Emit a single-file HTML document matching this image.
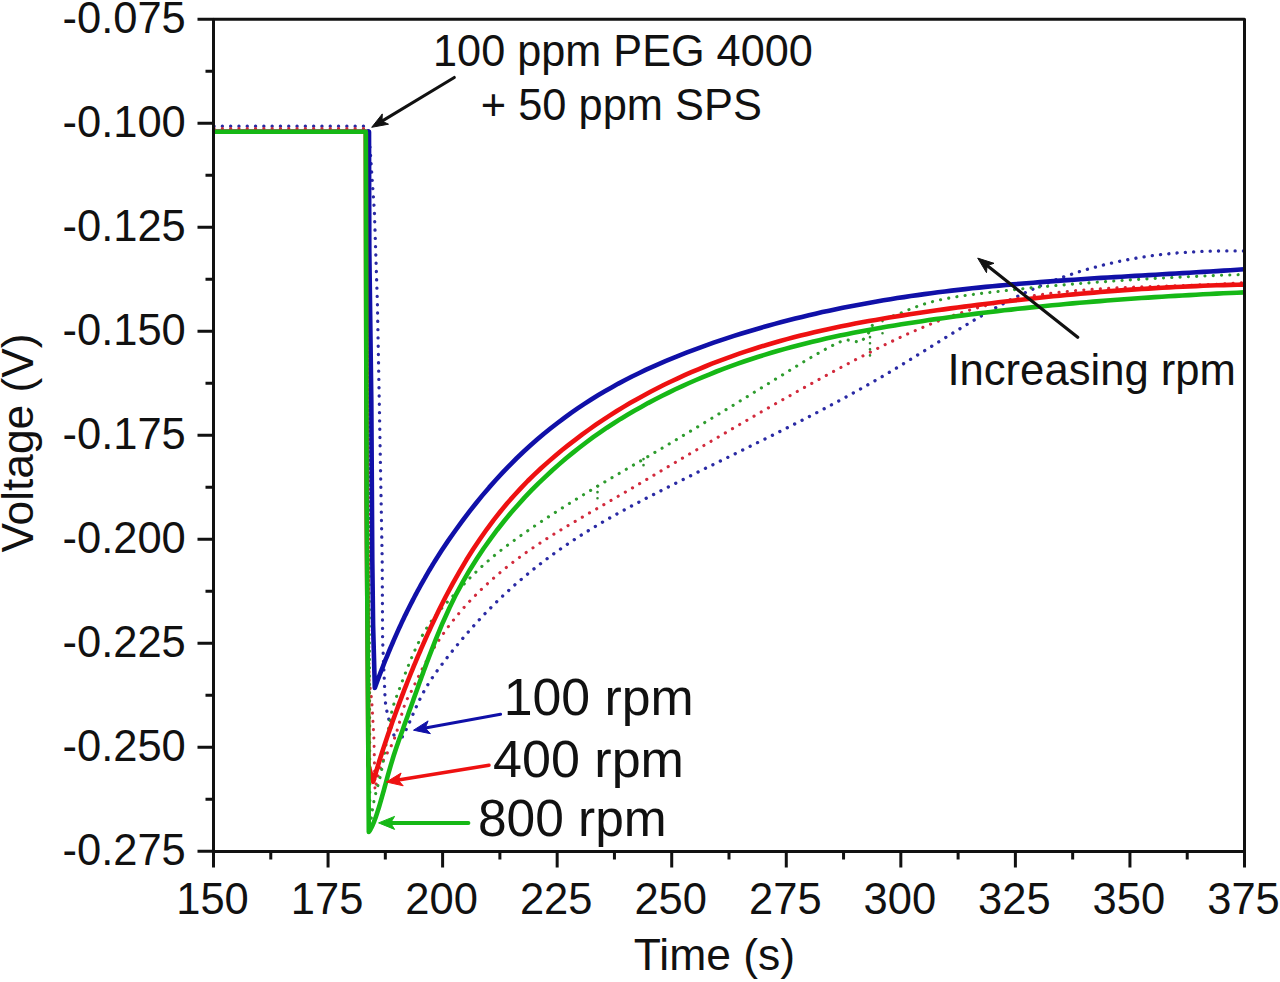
<!DOCTYPE html>
<html><head><meta charset="utf-8"><style>
html,body{margin:0;padding:0;background:#fff;}
body{width:1280px;height:982px;overflow:hidden;}
svg{display:block;}
text{font-family:"Liberation Sans",sans-serif;fill:#111;}
</style></head><body>
<svg width="1280" height="982" viewBox="0 0 1280 982">
<rect width="1280" height="982" fill="#fff"/>
<g>
<polyline points="214.0,126.2 367.0,126.2 368.9,132.0 374.4,211.5 377.4,303.0 379.6,418.8 382.2,560.0 382.6,640.0 385.0,696.4 385.7,705.3 387.5,714.3 392.1,731.4 398.0,743.0 399.0,741.8 400.0,740.5 401.0,739.0 402.0,737.4 403.0,735.6 404.0,733.8 405.0,731.8 406.0,729.8 407.0,727.7 408.0,725.5 409.0,723.3 410.0,721.1 411.0,718.8 412.0,716.5 413.0,714.2 414.0,711.9 415.0,709.6 416.0,707.4 417.0,705.2 418.0,703.0 419.0,700.9 420.0,698.9 421.0,696.9 422.0,695.0 423.0,693.1 424.0,691.3 425.0,689.5 426.0,687.8 427.0,686.1 428.0,684.4 429.0,682.8 430.0,681.2 431.0,679.7 432.0,678.2 433.0,676.7 434.0,675.3 435.0,673.8 436.0,672.4 437.0,671.0 438.0,669.7 439.0,668.3 440.0,667.0 441.0,665.6 442.0,664.3 443.0,663.0 444.0,661.7 445.0,660.4 446.0,659.1 447.0,657.8 448.0,656.5 449.0,655.2 450.0,654.0 451.0,652.7 452.0,651.5 453.0,650.2 454.0,649.0 455.0,647.7 456.0,646.5 457.0,645.3 458.0,644.1 464.6,636.2 471.2,628.6 477.8,621.3 484.4,614.3 491.0,607.5 497.6,600.9 504.2,594.6 510.8,588.5 517.4,582.6 524.1,577.0 530.7,571.5 537.3,566.2 543.9,561.1 550.5,556.1 557.1,551.4 563.7,546.7 570.3,542.3 576.9,537.9 583.5,533.7 590.1,529.6 596.7,525.6 603.3,521.7 609.9,517.9 616.5,514.2 623.1,510.6 629.7,507.0 636.3,503.5 642.9,500.0 649.5,496.6 656.2,493.2 662.8,489.8 669.4,486.4 676.0,483.1 682.6,479.8 689.2,476.5 695.8,473.2 702.4,469.9 709.0,466.6 715.6,463.4 722.2,460.1 728.8,456.9 735.4,453.6 742.0,450.4 748.6,447.1 755.2,443.8 761.8,440.5 768.4,437.3 775.0,434.0 781.6,430.6 788.3,427.3 794.9,423.9 801.5,420.6 808.1,417.2 814.7,413.7 821.3,410.3 827.9,406.8 834.5,403.2 841.1,399.7 847.7,396.1 854.3,392.4 860.9,388.7 867.5,385.0 874.1,381.2 880.7,377.4 887.3,373.5 893.9,369.6 900.5,365.6 907.1,361.5 913.7,357.4 920.4,353.3 927.0,349.2 933.6,345.1 940.2,340.9 946.8,336.8 953.4,332.7 960.0,328.7 966.6,324.7 973.2,320.7 979.8,316.8 986.4,313.0 993.0,309.3 999.6,305.6 1006.2,302.1 1012.8,298.7 1019.4,295.4 1026.0,292.3 1032.6,289.3 1039.2,286.4 1045.8,283.6 1052.5,281.0 1059.1,278.5 1065.7,276.2 1072.3,274.0 1078.9,271.8 1085.5,269.8 1092.1,268.0 1098.7,266.2 1105.3,264.5 1111.9,263.0 1118.5,261.5 1125.1,260.2 1131.7,259.0 1138.3,257.8 1144.9,256.8 1151.5,255.8 1158.1,255.0 1164.7,254.2 1171.3,253.5 1177.9,252.9 1184.6,252.4 1191.2,252.0 1197.8,251.6 1204.4,251.3 1211.0,251.1 1217.6,251.0 1224.2,250.9 1230.8,250.9 1237.4,250.9 1244.0,251.0" fill="none" stroke="#2a2aa4" stroke-width="3.3" stroke-dasharray="0.1 8.2" stroke-linecap="round" stroke-linejoin="round"/>
<polyline points="214.0,128.6 368.0,128.6 368.5,140.0 368.6,600.0 369.0,680.0 371.7,700.0 374.0,740.0 375.0,790.0 376.0,784.8 377.0,780.1 378.0,775.9 379.0,772.2 380.0,768.9 381.0,766.0 382.0,763.4 383.0,761.1 384.0,758.9 385.0,757.0 386.0,755.2 387.0,753.4 388.0,751.7 389.0,750.0 390.0,748.2 391.0,746.3 392.0,744.3 393.0,742.0 394.0,739.6 395.0,736.9 396.0,734.0 397.0,730.9 398.0,727.6 399.0,724.2 400.0,720.6 401.0,717.0 402.0,713.4 403.0,710.1 404.0,706.9 405.0,704.0 406.0,701.6 407.0,699.4 408.0,697.4 409.0,695.6 410.0,693.8 411.0,691.9 412.0,689.9 413.0,687.9 414.0,685.8 415.0,683.7 416.0,681.6 417.0,679.5 418.0,677.5 419.0,675.4 420.0,673.4 421.0,671.3 422.0,669.4 423.0,667.4 424.0,665.5 425.0,663.6 426.0,661.8 427.0,659.9 428.0,658.1 429.0,656.4 430.0,654.6 431.0,652.9 432.0,651.2 433.0,649.5 434.0,647.9 435.0,646.2 441.8,635.8 448.6,626.3 455.4,617.6 462.2,609.5 469.0,601.9 475.8,594.9 482.6,588.2 489.4,581.9 496.2,575.9 503.0,570.2 509.8,564.7 516.6,559.5 523.4,554.5 530.2,549.7 537.0,545.1 543.8,540.6 550.6,536.2 557.4,532.0 564.2,527.8 571.0,523.8 577.8,519.8 584.6,515.8 591.4,511.8 598.2,507.9 605.0,503.9 611.8,500.0 618.6,496.0 625.4,492.0 632.2,488.0 638.9,484.0 645.7,480.0 652.5,476.0 659.3,471.9 666.1,467.9 672.9,463.9 679.7,459.8 686.5,455.8 693.3,451.8 700.1,447.8 706.9,443.7 713.7,439.7 720.5,435.7 727.3,431.7 734.1,427.7 740.9,423.8 747.7,419.8 754.5,415.9 761.3,411.9 768.1,408.0 774.9,404.1 781.7,400.2 788.5,396.4 795.3,392.6 802.1,388.7 808.9,385.0 815.7,381.2 822.5,377.5 829.3,373.7 836.1,370.1 842.9,366.4 849.7,362.8 856.5,359.2 863.3,355.7 870.1,352.2 876.9,348.7 883.7,345.3 890.5,342.0 897.3,338.8 904.1,335.6 910.9,332.5 917.7,329.5 924.5,326.6 931.3,323.8 938.1,321.1 944.9,318.5 951.7,316.0 958.5,313.7 965.3,311.4 972.1,309.4 978.9,307.4 985.7,305.6 992.5,303.9 999.3,302.3 1006.1,300.8 1012.9,299.4 1019.7,298.1 1026.5,296.9 1033.3,295.8 1040.1,294.8 1046.8,293.8 1053.6,293.0 1060.4,292.2 1067.2,291.5 1074.0,290.8 1080.8,290.2 1087.6,289.7 1094.4,289.2 1101.2,288.8 1108.0,288.4 1114.8,288.0 1121.6,287.7 1128.4,287.4 1135.2,287.1 1142.0,286.9 1148.8,286.6 1155.6,286.4 1162.4,286.2 1169.2,286.0 1176.0,285.8 1182.8,285.5 1189.6,285.3 1196.4,285.0 1203.2,284.8 1210.0,284.5 1216.8,284.2 1223.6,283.8 1230.4,283.4 1237.2,283.0 1244.0,282.5" fill="none" stroke="#d22a3c" stroke-width="3.1" stroke-dasharray="0.1 8.2" stroke-linecap="round" stroke-linejoin="round"/>
<polyline points="214.0,131.0 366.0,131.0 368.0,140.0 370.0,830.0 371.0,820.7 372.0,812.9 373.0,806.4 374.0,800.9 375.0,796.3 376.0,792.3 377.0,788.7 378.0,785.1 379.0,781.5 380.0,777.5 381.0,773.0 382.0,768.1 383.0,762.7 384.0,756.9 385.0,750.9 386.0,744.6 387.0,738.4 388.0,732.2 389.0,726.3 390.0,720.6 391.0,715.5 392.0,710.8 393.0,706.9 394.0,703.6 395.0,700.7 396.0,698.0 397.0,695.3 398.0,692.6 399.0,689.9 400.0,687.3 401.0,684.6 402.0,681.9 403.0,679.3 404.0,676.7 405.0,674.1 406.0,671.5 407.0,669.0 408.0,666.5 409.0,664.0 410.0,661.6 411.0,659.2 412.0,656.8 413.0,654.5 414.0,652.2 415.0,650.0 416.0,647.8 417.0,645.7 418.0,643.6 419.0,641.6 420.0,639.7 421.0,637.8 422.0,636.0 423.0,634.2 424.0,632.5 425.0,630.8 426.0,629.2 427.0,627.6 428.0,626.0 429.0,624.5 430.0,623.1 436.8,614.0 443.7,606.0 450.5,598.6 457.4,591.2 464.2,583.9 471.0,576.8 477.9,570.1 484.7,563.8 491.6,557.9 498.4,552.3 505.2,547.0 512.1,541.9 518.9,537.0 525.8,532.1 532.6,527.4 539.4,522.8 546.3,518.3 553.1,513.8 560.0,509.4 566.8,505.1 573.6,500.8 580.5,496.6 587.3,492.4 594.2,488.3 601.0,484.2 607.8,480.1 614.7,476.1 621.5,472.1 628.4,468.0 635.2,464.0 642.1,460.0 648.9,456.0 655.7,451.9 662.6,447.9 669.4,443.8 676.3,439.7 683.1,435.6 689.9,431.5 696.8,427.4 703.6,423.2 710.5,419.1 717.3,414.9 724.1,410.8 731.0,406.6 737.8,402.4 744.7,398.2 751.5,394.0 758.3,389.8 765.2,385.6 772.0,381.3 778.9,377.1 785.7,372.9 792.5,368.6 799.4,364.4 806.2,360.3 813.1,356.2 819.9,352.3 826.7,348.5 833.6,345.0 840.4,341.7 847.3,339.9 854.1,341.4 860.9,342.0 867.8,334.4 874.6,320.7 881.5,318.2 888.3,317.3 895.1,315.3 902.0,312.6 908.8,309.7 915.7,307.0 922.5,304.6 929.3,302.5 936.2,300.7 943.0,299.2 949.9,297.9 956.7,296.7 963.5,295.7 970.4,294.8 977.2,293.9 984.1,293.1 990.9,292.3 997.7,291.5 1004.6,290.7 1011.4,290.0 1018.3,289.2 1025.1,288.5 1031.9,287.8 1038.8,287.1 1045.6,286.5 1052.5,285.9 1059.3,285.2 1066.2,284.7 1073.0,284.1 1079.8,283.5 1086.7,283.0 1093.5,282.5 1100.4,281.9 1107.2,281.5 1114.0,281.0 1120.9,280.5 1127.7,280.1 1134.6,279.6 1141.4,279.2 1148.2,278.8 1155.1,278.4 1161.9,278.1 1168.8,277.7 1175.6,277.4 1182.4,277.0 1189.3,276.7 1196.1,276.4 1203.0,276.1 1209.8,275.8 1216.6,275.5 1223.5,275.2 1230.3,275.0 1237.2,274.7 1244.0,274.5" fill="none" stroke="#2e9c2e" stroke-width="3.1" stroke-dasharray="0.1 8.2" stroke-linecap="round" stroke-linejoin="round"/>
<path d="M870,331 V357 M882.5,321 V336 M597.5,486 V502 M643.5,459 V468" stroke="#2f8f2f" stroke-width="2.6" stroke-dasharray="0.1 6" stroke-linecap="round" fill="none"/>
<polyline points="214.0,131.8 369.0,131.8 369.3,250.0 371.3,400.0 372.3,560.0 373.1,625.0 374.8,688.0 375.8,685.2 376.8,682.5 377.8,679.8 378.8,677.2 379.8,674.5 380.8,671.9 381.8,669.3 382.8,666.8 383.8,664.2 384.8,661.7 385.8,659.2 386.8,656.8 387.8,654.3 388.8,651.9 389.8,649.5 390.8,647.1 391.8,644.8 392.8,642.5 393.8,640.2 394.8,637.9 395.8,635.6 396.8,633.4 397.8,631.1 398.8,628.9 399.8,626.8 400.8,624.6 401.8,622.4 402.8,620.3 403.8,618.2 404.8,616.1 405.8,614.1 406.8,612.0 407.8,610.0 408.8,608.0 409.8,606.0 410.8,604.0 411.8,602.1 412.8,600.1 413.8,598.2 414.8,596.3 415.8,594.4 416.8,592.5 417.8,590.7 418.8,588.8 419.8,587.0 420.8,585.2 421.8,583.4 422.8,581.6 423.8,579.8 424.8,578.1 425.8,576.3 426.8,574.6 427.8,572.9 428.8,571.2 429.8,569.5 430.8,567.8 431.8,566.2 432.8,564.5 433.8,562.9 434.8,561.3 441.6,550.6 448.4,540.4 455.2,530.7 462.0,521.3 468.8,512.3 475.6,503.7 482.4,495.4 489.2,487.4 496.0,479.8 502.8,472.4 509.6,465.3 516.4,458.5 523.2,452.0 530.0,445.8 536.8,439.8 543.6,434.0 550.4,428.5 557.2,423.2 564.0,418.1 570.8,413.1 577.6,408.4 584.4,403.9 591.2,399.5 598.0,395.3 604.8,391.3 611.6,387.4 618.4,383.6 625.2,380.0 632.0,376.5 638.8,373.2 645.6,369.9 652.4,366.8 659.2,363.8 666.0,360.9 672.8,358.1 679.6,355.3 686.4,352.7 693.2,350.1 700.0,347.6 706.8,345.1 713.6,342.7 720.4,340.4 727.2,338.1 734.0,335.9 740.8,333.8 747.6,331.7 754.4,329.7 761.2,327.7 768.0,325.7 774.8,323.9 781.6,322.0 788.4,320.3 795.2,318.6 802.0,316.9 808.8,315.3 815.6,313.7 822.4,312.1 829.2,310.7 836.0,309.2 842.8,307.8 849.6,306.5 856.4,305.2 863.2,303.9 870.0,302.7 876.8,301.5 883.6,300.3 890.4,299.2 897.2,298.1 904.0,297.1 910.8,296.0 917.6,295.1 924.4,294.1 931.2,293.2 938.0,292.3 944.8,291.5 951.6,290.6 958.4,289.9 965.2,289.1 972.0,288.3 978.8,287.6 985.6,286.9 992.4,286.3 999.2,285.6 1006.0,285.0 1012.8,284.4 1019.6,283.8 1026.4,283.2 1033.2,282.7 1040.0,282.1 1046.8,281.6 1053.6,281.1 1060.4,280.6 1067.2,280.1 1074.0,279.7 1080.8,279.2 1087.6,278.8 1094.4,278.3 1101.2,277.9 1108.0,277.5 1114.8,277.1 1121.6,276.7 1128.4,276.3 1135.2,275.9 1142.0,275.5 1148.8,275.1 1155.6,274.7 1162.4,274.3 1169.2,273.9 1176.0,273.5 1182.8,273.1 1189.6,272.7 1196.4,272.3 1203.2,271.9 1210.0,271.5 1216.8,271.1 1223.6,270.6 1230.4,270.2 1237.2,269.8 1244.0,269.3" fill="none" stroke="#1010a8" stroke-width="4.6" stroke-linejoin="round" stroke-linecap="butt"/>
<polyline points="214.0,131.8 365.8,131.8 366.6,500.0 368.0,700.0 368.4,765.0 373.2,781.9 374.2,778.4 375.2,774.9 376.2,771.5 377.2,768.1 378.2,764.8 379.2,761.5 380.2,758.3 381.2,755.2 382.2,752.0 383.2,749.0 384.2,745.9 385.2,742.9 386.2,739.9 387.2,737.0 388.2,734.1 389.2,731.2 390.2,728.3 391.2,725.4 392.2,722.6 393.2,719.8 394.2,717.0 395.2,714.2 396.2,711.5 397.2,708.8 398.2,706.1 399.2,703.4 400.2,700.7 401.2,698.1 402.2,695.4 403.2,692.8 404.2,690.2 405.2,687.7 406.2,685.1 407.2,682.5 408.2,680.0 409.2,677.5 410.2,675.0 411.2,672.5 412.2,670.1 413.2,667.6 414.2,665.2 415.2,662.8 416.2,660.4 417.2,658.0 418.2,655.6 419.2,653.3 420.2,651.0 421.2,648.6 422.2,646.3 423.2,644.1 424.2,641.8 425.2,639.5 426.2,637.3 427.2,635.1 428.2,632.9 429.2,630.7 430.2,628.5 431.2,626.3 432.2,624.2 439.0,610.0 445.8,596.5 452.7,583.7 459.5,571.6 466.3,560.1 473.1,549.3 480.0,539.0 486.8,529.3 493.6,520.1 500.4,511.5 507.2,503.2 514.1,495.5 520.9,488.1 527.7,481.0 534.5,474.4 541.3,468.0 548.2,461.9 555.0,456.0 561.8,450.3 568.6,444.9 575.5,439.6 582.3,434.4 589.1,429.5 595.9,424.7 602.7,420.1 609.6,415.6 616.4,411.3 623.2,407.1 630.0,403.1 636.9,399.2 643.7,395.4 650.5,391.7 657.3,388.2 664.1,384.8 671.0,381.5 677.8,378.3 684.6,375.2 691.4,372.2 698.3,369.3 705.1,366.5 711.9,363.7 718.7,361.1 725.5,358.6 732.4,356.1 739.2,353.7 746.0,351.4 752.8,349.2 759.6,347.0 766.5,345.0 773.3,343.0 780.1,341.0 786.9,339.1 793.8,337.3 800.6,335.6 807.4,333.9 814.2,332.3 821.0,330.7 827.9,329.2 834.7,327.7 841.5,326.3 848.3,324.9 855.2,323.6 862.0,322.3 868.8,321.1 875.6,319.9 882.4,318.7 889.3,317.5 896.1,316.4 902.9,315.4 909.7,314.3 916.6,313.3 923.4,312.3 930.2,311.3 937.0,310.3 943.8,309.4 950.7,308.4 957.5,307.5 964.3,306.6 971.1,305.7 977.9,304.9 984.8,304.0 991.6,303.2 998.4,302.3 1005.2,301.5 1012.1,300.7 1018.9,300.0 1025.7,299.2 1032.5,298.5 1039.3,297.7 1046.2,297.0 1053.0,296.3 1059.8,295.7 1066.6,295.0 1073.5,294.4 1080.3,293.7 1087.1,293.1 1093.9,292.6 1100.7,292.0 1107.6,291.4 1114.4,290.9 1121.2,290.4 1128.0,289.9 1134.9,289.4 1141.7,289.0 1148.5,288.6 1155.3,288.1 1162.1,287.8 1169.0,287.4 1175.8,287.0 1182.6,286.7 1189.4,286.4 1196.2,286.1 1203.1,285.8 1209.9,285.5 1216.7,285.3 1223.5,285.1 1230.4,284.9 1237.2,284.7 1244.0,284.6" fill="none" stroke="#ee1111" stroke-width="4.6" stroke-linejoin="round" stroke-linecap="butt"/>
<polyline points="214.0,131.8 365.8,131.8 366.6,500.0 368.0,700.0 368.8,832.0 369.8,830.6 370.8,828.8 371.8,826.9 372.8,824.7 373.8,822.3 374.8,819.7 375.8,816.9 376.8,814.0 377.8,810.9 378.8,807.7 379.8,804.4 380.8,800.9 381.8,797.4 382.8,793.9 383.8,790.3 384.8,786.6 385.8,783.0 386.8,779.3 387.8,775.7 388.8,772.1 389.8,768.6 390.8,765.1 391.8,761.8 392.8,758.5 393.8,755.3 394.8,752.2 395.8,749.2 396.8,746.3 397.8,743.4 398.8,740.6 399.8,737.8 400.8,735.0 401.8,732.2 402.8,729.4 403.8,726.6 404.8,723.8 405.8,721.0 406.8,718.2 407.8,715.4 408.8,712.6 409.8,709.8 410.8,707.0 411.8,704.2 412.8,701.4 413.8,698.5 414.8,695.7 415.8,692.9 416.8,690.2 417.8,687.4 418.8,684.6 419.8,681.8 420.8,679.1 421.8,676.3 422.8,673.6 423.8,670.8 424.8,668.1 425.8,665.4 426.8,662.7 427.8,660.1 428.8,657.4 435.7,639.7 442.5,623.2 449.4,608.0 456.2,594.1 463.1,581.4 469.9,569.7 476.8,558.8 483.6,548.5 490.5,538.8 497.3,529.7 504.2,521.0 511.0,512.7 517.9,504.9 524.7,497.4 531.6,490.2 538.4,483.4 545.3,476.8 552.1,470.5 559.0,464.4 565.8,458.5 572.7,452.9 579.5,447.5 586.4,442.2 593.2,437.2 600.1,432.4 606.9,427.7 613.8,423.2 620.6,418.9 627.5,414.8 634.3,410.7 641.2,406.9 648.0,403.1 654.9,399.5 661.7,396.0 668.6,392.6 675.4,389.3 682.3,386.1 689.1,383.0 696.0,380.0 702.8,377.1 709.7,374.3 716.5,371.5 723.4,368.9 730.2,366.4 737.1,363.9 743.9,361.5 750.8,359.2 757.6,357.0 764.5,354.9 771.3,352.8 778.2,350.8 785.0,348.9 791.9,347.0 798.7,345.2 805.6,343.5 812.4,341.8 819.3,340.2 826.1,338.6 833.0,337.1 839.8,335.6 846.7,334.2 853.5,332.8 860.4,331.5 867.2,330.2 874.1,329.0 880.9,327.8 887.8,326.6 894.6,325.4 901.5,324.3 908.3,323.2 915.2,322.2 922.0,321.2 928.9,320.1 935.7,319.1 942.6,318.2 949.4,317.2 956.3,316.3 963.1,315.4 970.0,314.5 976.8,313.6 983.7,312.8 990.5,312.0 997.4,311.1 1004.2,310.3 1011.1,309.6 1017.9,308.8 1024.8,308.1 1031.6,307.4 1038.5,306.7 1045.3,306.0 1052.2,305.3 1059.0,304.7 1065.9,304.0 1072.7,303.4 1079.6,302.8 1086.4,302.2 1093.3,301.6 1100.1,301.1 1107.0,300.5 1113.8,300.0 1120.7,299.5 1127.5,299.0 1134.4,298.5 1141.2,298.0 1148.1,297.6 1154.9,297.1 1161.8,296.7 1168.6,296.3 1175.5,295.9 1182.3,295.5 1189.2,295.1 1196.0,294.7 1202.9,294.3 1209.7,294.0 1216.6,293.6 1223.4,293.3 1230.3,293.0 1237.1,292.7 1244.0,292.4" fill="none" stroke="#16b816" stroke-width="4.6" stroke-linejoin="round" stroke-linecap="butt"/>
</g>
<rect x="213.5" y="19.2" width="1031.0" height="832.1999999999999" fill="none" stroke="#111" stroke-width="3" stroke-linejoin="round"/>
<path d="M213.50,851.4 V867.4 M270.78,851.4 V859.4 M328.06,851.4 V867.4 M385.33,851.4 V859.4 M442.61,851.4 V867.4 M499.89,851.4 V859.4 M557.17,851.4 V867.4 M614.44,851.4 V859.4 M671.72,851.4 V867.4 M729.00,851.4 V859.4 M786.28,851.4 V867.4 M843.56,851.4 V859.4 M900.83,851.4 V867.4 M958.11,851.4 V859.4 M1015.39,851.4 V867.4 M1072.67,851.4 V859.4 M1129.94,851.4 V867.4 M1187.22,851.4 V859.4 M1244.50,851.4 V867.4 M213.5,19.20 H197.5 M213.5,71.20 H205.5 M213.5,123.20 H197.5 M213.5,175.20 H205.5 M213.5,227.20 H197.5 M213.5,279.20 H205.5 M213.5,331.20 H197.5 M213.5,383.20 H205.5 M213.5,435.20 H197.5 M213.5,487.20 H205.5 M213.5,539.20 H197.5 M213.5,591.20 H205.5 M213.5,643.20 H197.5 M213.5,695.20 H205.5 M213.5,747.20 H197.5 M213.5,799.20 H205.5 M213.5,851.20 H197.5" stroke="#111" stroke-width="3" fill="none"/>
<line x1="454.3" y1="77.5" x2="382.0" y2="121.1" stroke="#111" stroke-width="3.1" stroke-linecap="round"/><polygon points="371.7,127.3 382.3,113.9 382.0,121.1 388.5,124.2" fill="#111" stroke="#111" stroke-width="1" stroke-linejoin="round"/>
<line x1="1077.7" y1="337.3" x2="987.1" y2="265.6" stroke="#111" stroke-width="3.2" stroke-linecap="round"/><polygon points="977.7,258.1 994.0,263.3 987.1,265.6 986.5,272.7" fill="#111" stroke="#111" stroke-width="1" stroke-linejoin="round"/>
<line x1="500.5" y1="714.3" x2="425.3" y2="728.0" stroke="#1010a8" stroke-width="3.2" stroke-linecap="round"/><polygon points="413.5,730.2 428.1,720.9 425.3,728.0 430.4,733.7" fill="#1010a8" stroke="#1010a8" stroke-width="1" stroke-linejoin="round"/>
<line x1="489" y1="765.3" x2="398.2" y2="780.1" stroke="#ee1111" stroke-width="3.5" stroke-linecap="round"/><polygon points="386.4,782.0 401.1,773.0 398.2,780.1 403.2,785.8" fill="#ee1111" stroke="#ee1111" stroke-width="1" stroke-linejoin="round"/>
<line x1="468.4" y1="822.9" x2="390.6" y2="822.9" stroke="#16b816" stroke-width="4" stroke-linecap="round"/><polygon points="378.6,822.9 394.6,816.4 390.6,822.9 394.6,829.4" fill="#16b816" stroke="#16b816" stroke-width="1" stroke-linejoin="round"/>
<g font-size="43.5">
<text x="185.8" y="32.6" text-anchor="end">-0.075</text><text x="185.8" y="136.6" text-anchor="end">-0.100</text><text x="185.8" y="240.6" text-anchor="end">-0.125</text><text x="185.8" y="344.6" text-anchor="end">-0.150</text><text x="185.8" y="448.6" text-anchor="end">-0.175</text><text x="185.8" y="552.6" text-anchor="end">-0.200</text><text x="185.8" y="656.6" text-anchor="end">-0.225</text><text x="185.8" y="760.6" text-anchor="end">-0.250</text><text x="185.8" y="864.6" text-anchor="end">-0.275</text>
<text x="212.5" y="914.0" text-anchor="middle">150</text><text x="327.1" y="914.0" text-anchor="middle">175</text><text x="441.6" y="914.0" text-anchor="middle">200</text><text x="556.2" y="914.0" text-anchor="middle">225</text><text x="670.7" y="914.0" text-anchor="middle">250</text><text x="785.3" y="914.0" text-anchor="middle">275</text><text x="899.8" y="914.0" text-anchor="middle">300</text><text x="1014.4" y="914.0" text-anchor="middle">325</text><text x="1128.9" y="914.0" text-anchor="middle">350</text><text x="1243.5" y="914.0" text-anchor="middle">375</text>
</g>
<text x="633.8" y="970.0" font-size="44" textLength="161.31" lengthAdjust="spacingAndGlyphs">Time (s)</text>
<text transform="translate(33.0,552.5) rotate(-90)" font-size="44" textLength="218.9" lengthAdjust="spacingAndGlyphs">Voltage (V)</text>
<text x="433.06" y="66.2" font-size="44" textLength="379.74" lengthAdjust="spacingAndGlyphs">100 ppm PEG 4000</text>
<text x="480.8" y="120.2" font-size="44" textLength="281.1" lengthAdjust="spacingAndGlyphs">+ 50 ppm SPS</text>
<text x="947.4" y="385.0" font-size="44" textLength="288.56" lengthAdjust="spacingAndGlyphs">Increasing rpm</text>
<text x="503.68" y="714.6" font-size="52" textLength="190.05" lengthAdjust="spacingAndGlyphs">100 rpm</text>
<text x="493.1" y="776.6" font-size="52" textLength="190.87" lengthAdjust="spacingAndGlyphs">400 rpm</text>
<text x="477.9" y="836.2" font-size="52" textLength="188.81" lengthAdjust="spacingAndGlyphs">800 rpm</text>
</svg>
</body></html>
